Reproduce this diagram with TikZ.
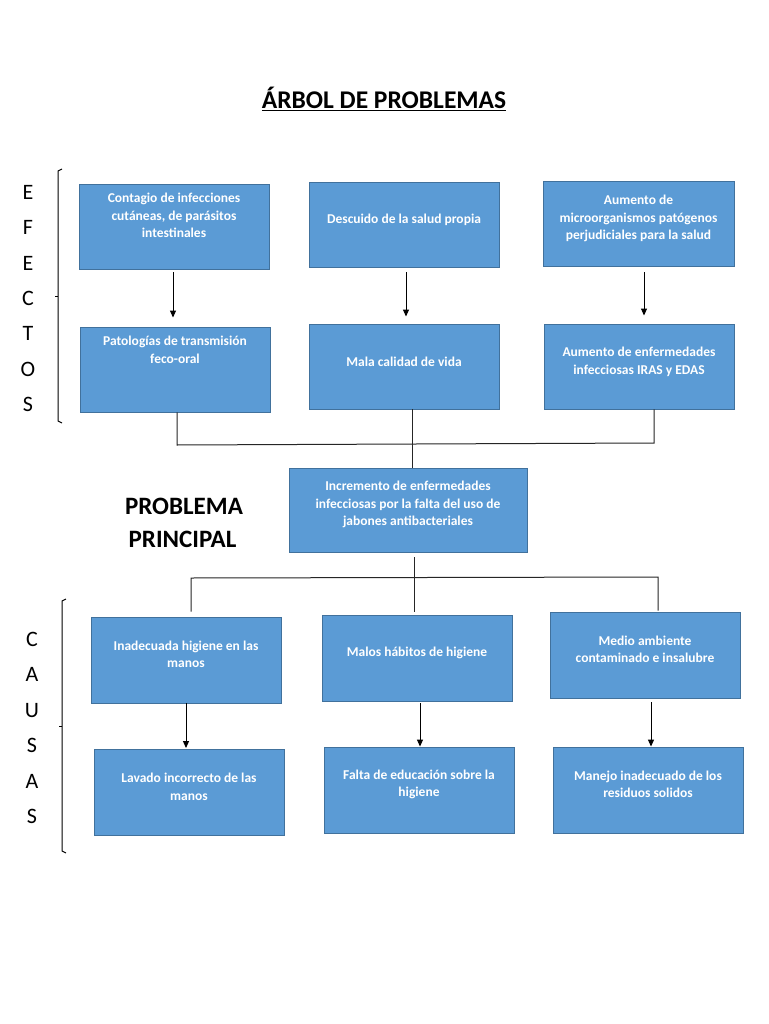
\documentclass[tikz,border=0pt]{standalone}
\usepackage{fontspec}
\setmainfont{Carlito}
\usetikzlibrary{arrows.meta}
\definecolor{boxfill}{HTML}{5B9BD5}
\definecolor{boxline}{HTML}{41719C}
\begin{document}
\begin{tikzpicture}[x=1pt,y=-1pt,
  box/.style={draw=boxline, fill=boxfill, line width=0.9pt, minimum width=190pt, minimum height=85pt, inner sep=0pt},
  btext/.style={text=white, font=\bfseries\fontsize{13.5}{17.5}\selectfont, align=center, inner sep=0pt},
  conn/.style={line width=1pt, black!85},
  arr/.style={line width=1pt, black, -{Triangle[width=6pt,length=7pt]}},
  side/.style={font=\fontsize{22}{22}\selectfont, anchor=base, inner sep=0pt},
  bigbold/.style={font=\bfseries\fontsize{25}{28}\selectfont, anchor=base, inner sep=0pt},
  brack/.style={line width=1pt, black}
  ]
\useasboundingbox (0,0) rectangle (768,1024);
\fill[white] (0,0) rectangle (768,1024);

% title
\node[font=\bfseries\fontsize{25.5}{28}\selectfont, anchor=base, inner sep=0pt] (title) at (384,109) {\underline{ÁRBOL DE PROBLEMAS}};

% side labels
\foreach \l [count=\i] in {E,F,E,C,T,O,S}
  \node[side] (ef\i) at (28,{199.5+35.3*(\i-1)}) {\l};
\foreach \l [count=\i] in {C,A,U,S,A,S}
  \node[side] (ca\i) at (32,{646.5+35.4*(\i-1)}) {\l};

% brackets
\draw[brack] (62,169) -- (58,171) -- (58,421) -- (62,423);
\draw[brack] (58,296) -- (55,296);
\draw[brack] (66,599) -- (62,601) -- (62,851) -- (66,853);
\draw[brack] (62,726) -- (59,726);

% problema principal
\node[bigbold] (pp1) at (184,514) {PROBLEMA};
\node[bigbold] (pp2) at (182.5,547) {PRINCIPAL};

% effect boxes
\node[box] (e1) at (174,226.5) {};
\node[box] (e2) at (404,224.5) {};
\node[box, minimum width=191pt] (e3) at (638.5,223.5) {};
\node[box] (e4) at (175,369.5) {};
\node[box] (e5) at (404,366.5) {};
\node[box] (e6) at (639,366.5) {};
\node[btext] (e1t) at (174,215.5) {Contagio de infecciones\\cutáneas, de parásitos\\intestinales};
\node[btext] (e2t) at (404,220) {Descuido de la salud propia};
\node[btext] (e3t) at (638.5,218.5) {Aumento de\\microorganismos patógenos\\perjudiciales para la salud};
\node[btext] (e4t) at (175,350) {Patologías de transmisión\\feco-oral};
\node[btext] (e5t) at (404,362) {Mala calidad de vida};
\node[btext] (e6t) at (639,362) {Aumento de enfermedades\\infecciosas IRAS y EDAS};

% main problem
\node[box, minimum width=238pt, minimum height=84pt] (main) at (408,510) {};
\node[btext] (maint) at (408,504.5) {Incremento de enfermedades\\infecciosas por la falta del uso de\\jabones antibacteriales};

% cause boxes
\node[box, minimum height=86pt] (c1) at (186,660) {};
\node[box, minimum height=86pt] (c2) at (417,658) {};
\node[box, minimum height=86pt] (c3) at (645,655) {};
\node[box, minimum height=86pt] (c4) at (189,792.5) {};
\node[box, minimum height=86pt] (c5) at (419,790) {};
\node[box, minimum height=86pt] (c6) at (648,790) {};
\node[btext] (c1t) at (186,654.5) {Inadecuada higiene en las\\manos};
\node[btext] (c2t) at (417,653) {Malos hábitos de higiene};
\node[btext] (c3t) at (645,649.5) {Medio ambiente\\contaminado e insalubre};
\node[btext] (c4t) at (189,787) {Lavado incorrecto de las\\manos};
\node[btext] (c5t) at (419,784.5) {Falta de educación sobre la\\higiene};
\node[btext] (c6t) at (648,784.5) {Manejo inadecuado de los\\residuos solidos};

% arrows
\coordinate (a1) at (173,0);
\coordinate (a2) at (406,0);
\coordinate (a3) at (644,0);
\coordinate (a4) at (186,0);
\coordinate (a5) at (420,0);
\coordinate (a6) at (651,0);
\draw[arr, shorten <=3pt, shorten >=9pt] (e1.south -| a1) -- (e4.north -| a1);
\draw[arr, shorten <=5pt, shorten >=7pt] (e2.south -| a2) -- (e5.north -| a2);
\draw[arr, shorten <=6pt, shorten >=8pt] (e3.south -| a3) -- (e6.north -| a3);
\draw[arr, shorten >=1pt] (c1.south -| a4) -- (c4.north -| a4);
\draw[arr, shorten <=2pt] (c2.south -| a5) -- (c5.north -| a5);
\draw[arr, shorten <=4pt] (c3.south -| a6) -- (c6.north -| a6);

% tree connectors (effects)
\coordinate (hl) at (177,445);
\coordinate (hm) at (412,444);
\coordinate (hr) at (654,443);
\draw[conn] (e4.south -| hl) -- (hl) -- (hr) -- (e6.south -| hr);
\draw[conn] (e5.south -| hm) -- (main.north -| hm);

% tree connectors (causes)
\coordinate (ll) at (191,578);
\coordinate (lm) at (414,578);
\coordinate (lr) at (658,577);
\draw[conn, shorten <=5pt, shorten >=3pt] (main.south -| lm) -- (c2.north -| lm);
\draw[conn, shorten <=5pt, shorten >=1pt] (c1.north -| ll) -- (ll) -- (lr) -- (c3.north -| lr);
\end{tikzpicture}
\end{document}
